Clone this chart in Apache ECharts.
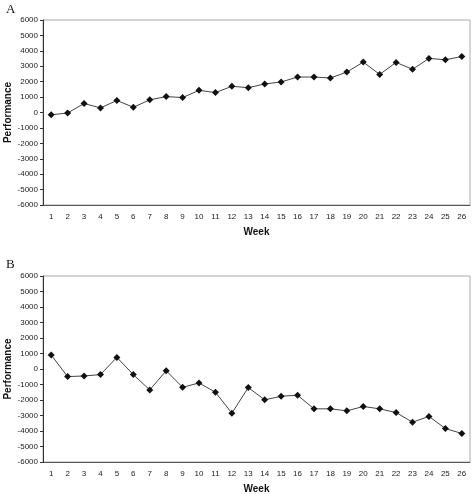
<!DOCTYPE html>
<html>
<head>
<meta charset="utf-8">
<script src="https://cdn.jsdelivr.net/npm/echarts@6/dist/echarts.min.js"></script>
<style>
  html, body { margin: 0; padding: 0; background: #fff; }
  #chart { width: 474px; height: 494px; }
</style>
</head>
<body>
<div id="chart"></div>
<script>
// weeks 1..26
const weeks = ["1","2","3","4","5","6","7","8","9","10","11","12","13","14","15","16","17","18","19","20","21","22","23","24","25","26"];
// panel A
const perfA = [-150, -30, 580, 300, 780, 340, 820, 1030, 970, 1440, 1290, 1700, 1610, 1850, 1980, 2300, 2300, 2240, 2620, 3270, 2470, 3250, 2800, 3510, 3420, 3630];
// panel B
const perfB = [900, -490, -450, -360, 750, -360, -1350, -110, -1180, -900, -1500, -2850, -1200, -1990, -1760, -1690, -2570, -2570, -2700, -2420, -2570, -2810, -3430, -3060, -3840, -4160];

const myChart = echarts.init(document.getElementById("chart"));

const axisFont = { fontFamily: "Arial, 'Liberation Sans', sans-serif", fontSize: 8, color: "#222" };

function xAxis(gridIndex) {
  return {
    gridIndex: gridIndex,
    type: "category",
    data: weeks,
    boundaryGap: true,
    name: "Week",
    nameLocation: "middle",
    nameGap: 22,
    nameMoveOverlap: false,
    nameTextStyle: { fontFamily: "Arial, 'Liberation Sans', sans-serif", fontSize: 10, fontWeight: "bold", color: "#111" },
    axisLine: { onZero: false, lineStyle: { color: "#555", width: 1 } },
    axisTick: { show: false },
    axisLabel: Object.assign({ margin: 8, interval: 0 }, axisFont),
    splitLine: { show: false },
  };
}

function yAxis(gridIndex) {
  return {
    gridIndex: gridIndex,
    type: "value",
    min: -6000,
    max: 6000,
    interval: 1000,
    name: "Performance",
    nameLocation: "middle",
    nameGap: 30,
    nameMoveOverlap: false,
    nameTextStyle: { fontFamily: "Arial, 'Liberation Sans', sans-serif", fontSize: 10, fontWeight: "bold", color: "#111" },
    axisLine: { show: true, lineStyle: { color: "#333", width: 1 } },
    axisTick: { show: true, inside: false, length: 3, lineStyle: { color: "#333" } },
    axisLabel: Object.assign({ margin: 5, formatter: (v) => String(v) }, axisFont),
    splitLine: { show: false },
  };
}

function lineSeries(idx, data) {
  return {
    type: "line",
    xAxisIndex: idx,
    yAxisIndex: idx,
    data: data,
    symbol: "diamond",
    symbolSize: 7,
    color: "#111",
    lineStyle: { color: "#444", width: 1 },
    itemStyle: { color: "#111" },
    animation: false,
  };
}

const option = {
  backgroundColor: "#fff",
  title: [
    { text: "A", left: 1, top: -2, textStyle: { fontFamily: "'Liberation Serif', 'DejaVu Serif', serif", fontSize: 13, fontWeight: "normal", color: "#111" } },
    { text: "B", left: 1, top: 253, textStyle: { fontFamily: "'Liberation Serif', 'DejaVu Serif', serif", fontSize: 13, fontWeight: "normal", color: "#111" } },
  ],
  grid: [
    { left: 43, right: 4, top: 20, height: 185, outerBoundsMode: "none", containLabel: false, show: true, borderColor: "#aaa", borderWidth: 1, backgroundColor: "#fff" },
    { left: 43, right: 4, top: 276, height: 186, outerBoundsMode: "none", containLabel: false, show: true, borderColor: "#aaa", borderWidth: 1, backgroundColor: "#fff" },
  ],
  xAxis: [xAxis(0), xAxis(1)],
  yAxis: [yAxis(0), yAxis(1)],
  series: [lineSeries(0, perfA), lineSeries(1, perfB)],
};

myChart.setOption(option);
</script>
</body>
</html>
